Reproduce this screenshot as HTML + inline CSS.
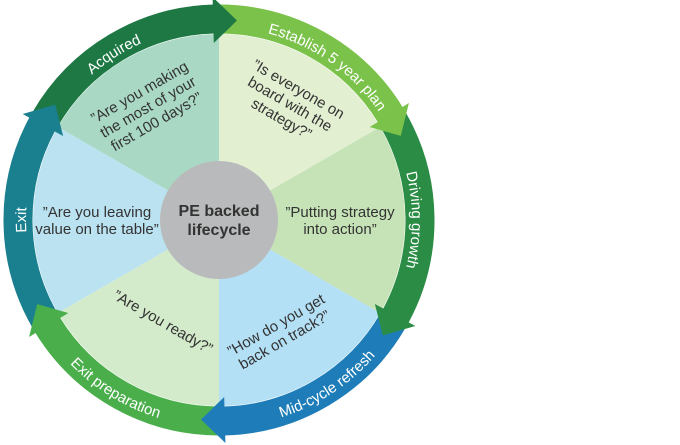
<!DOCTYPE html>
<html><head><meta charset="utf-8"><style>
html,body{margin:0;padding:0;background:#fff;width:680px;height:445px;overflow:hidden;}
svg{display:block;}
text{font-family:"Liberation Sans","DejaVu Sans",sans-serif;}
</style></head><body>
<svg width="680" height="445" viewBox="0 0 680 445" xmlns="http://www.w3.org/2000/svg">
<defs>
<path id="wedge" d="M219 220 L57.9 127 A186 186 0 0 1 219 34 Z"/>
<path id="arc" d="M45 119.5 A201 201 0 0 1 213.7 19" fill="none" stroke-width="29"/>
<path id="head" d="M213.8 43 L212.6 -3 L237 20.5 Z"/>
<path id="cw" d="M219 27 A193 193 0 1 1 219 413 A193 193 0 1 1 219 27"/>
<path id="ccw" d="M12 220 A207 207 0 0 0 426 220"/>
</defs>
<use href="#wedge" fill="#a9d9c5"/>
<use href="#wedge" fill="#e3efd1" transform="rotate(60 219 220)"/>
<use href="#wedge" fill="#c6e3b7" transform="rotate(120 219 220)"/>
<use href="#wedge" fill="#b4e0f5" transform="rotate(180 219 220)"/>
<use href="#wedge" fill="#d4ebcb" transform="rotate(240 219 220)"/>
<use href="#wedge" fill="#bbe2f1" transform="rotate(300 219 220)"/>

<use href="#arc" stroke="#1d7844"/>
<use href="#arc" stroke="#7bc24b" transform="rotate(60 219 220)"/>
<use href="#arc" stroke="#2a8c45" transform="rotate(120 219 220)"/>
<use href="#arc" stroke="#1e7db8" transform="rotate(180 219 220)"/>
<use href="#arc" stroke="#4aaf4b" transform="rotate(240 219 220)"/>
<use href="#arc" stroke="#1a7f8e" transform="rotate(300 219 220)"/>

<use href="#head" fill="#1d7844"/>
<use href="#head" fill="#7bc24b" transform="rotate(60 219 220)"/>
<use href="#head" fill="#2a8c45" transform="rotate(120 219 220)"/>
<use href="#head" fill="#1e7db8" transform="rotate(180 219 220)"/>
<use href="#head" fill="#4aaf4b" transform="rotate(240 219 220)"/>
<use href="#head" fill="#1a7f8e" transform="rotate(300 219 220)"/>

<circle cx="219" cy="220" r="59" fill="#b9babb"/>
<text x="219" y="216" text-anchor="middle" font-size="16" font-weight="bold" fill="#333">PE backed</text>
<text x="219" y="235" text-anchor="middle" font-size="16" font-weight="bold" fill="#333">lifecycle</text>

<g font-size="15" fill="#fff">
<text text-anchor="middle"><textPath href="#cw" startOffset="91%">Acquired</textPath></text>
<text text-anchor="middle"><textPath href="#cw" startOffset="9.8%">Establish 5 year plan</textPath></text>
<text text-anchor="middle"><textPath href="#cw" startOffset="25%">Driving growth</textPath></text>
<text text-anchor="middle"><textPath href="#cw" startOffset="75%">Exit</textPath></text>
<text text-anchor="middle"><textPath href="#ccw" startOffset="32.5%">Exit preparation</textPath></text>
<text text-anchor="middle"><textPath href="#ccw" startOffset="68.5%">Mid-cycle refresh</textPath></text>
</g>

<g font-size="15" fill="#333" text-anchor="middle">
<g transform="translate(148 107) rotate(-30)">
<text x="0" y="-12">”Are you making</text>
<text x="0" y="5">the most of your</text>
<text x="0" y="22">first 100 days?”</text>
</g>
<g transform="translate(290 104) rotate(30)">
<text x="0" y="-12">”Is everyone on</text>
<text x="0" y="5">board with the</text>
<text x="0" y="22">strategy?”</text>
</g>
<g transform="translate(340 220)">
<text x="0" y="-3">”Putting strategy</text>
<text x="0" y="14">into action”</text>
</g>
<g transform="translate(280 332) rotate(-30)">
<text x="0" y="-3">”How do you get</text>
<text x="0" y="14">back on track?”</text>
</g>
<g transform="translate(163 322) rotate(30)">
<text x="0" y="5">”Are you ready?”</text>
</g>
<g transform="translate(97 220)">
<text x="0" y="-3">”Are you leaving</text>
<text x="0" y="14">value on the table”</text>
</g>
</g>
</svg>
</body></html>
